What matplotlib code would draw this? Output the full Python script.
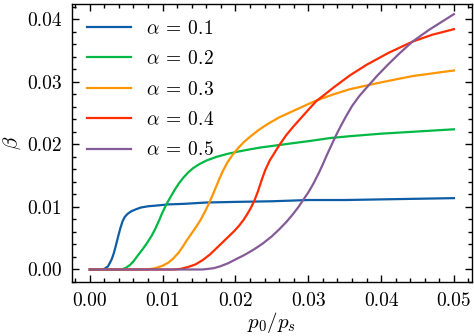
import matplotlib
matplotlib.use("Agg")
import matplotlib.pyplot as plt
from matplotlib.ticker import MultipleLocator, FormatStrFormatter

plt.rcParams['font.family'] = 'serif'
plt.rcParams['font.serif'] = ['cmr10', 'DejaVu Serif']
plt.rcParams['mathtext.fontset'] = 'cm'
plt.rcParams['axes.formatter.use_mathtext'] = True

labels = [r'$\alpha\:=\:0.1$', r'$\alpha\:=\:0.2$', r'$\alpha\:=\:0.3$',
          r'$\alpha\:=\:0.4$', r'$\alpha\:=\:0.5$']
colors = ['#0C5DA5', '#00B945', '#FF9500', '#FF2C00', '#845B97']

x_a1 = [0, 0.0015, 0.002, 0.0025, 0.003, 0.0033, 0.0036, 0.0039, 0.0042, 0.0045, 0.0048,
        0.0052, 0.0057, 0.0063, 0.007, 0.008, 0.009, 0.0108, 0.0131, 0.016, 0.02, 0.025,
        0.03, 0.035, 0.04, 0.045, 0.05]
y_a1 = [0, 0, 0.0001, 0.0005, 0.0016, 0.0026, 0.0039, 0.0053, 0.0066, 0.0077, 0.0084,
        0.0089, 0.0093, 0.0096, 0.0099, 0.0101, 0.0102, 0.0104, 0.0105, 0.0107, 0.0108, 0.0109,
        0.0111, 0.0111, 0.0112, 0.0113, 0.0114]

x_a2 = [0, 0.0044, 0.005, 0.0055, 0.006, 0.0067, 0.0073, 0.0079, 0.0085, 0.009, 0.0095,
        0.0099, 0.0103, 0.0107, 0.0112, 0.0117, 0.0122, 0.0128, 0.0135, 0.0142, 0.015, 0.016,
        0.0174, 0.019, 0.0202, 0.022, 0.0235, 0.0261, 0.028, 0.03, 0.033, 0.0357, 0.04,
        0.0443, 0.05]
y_a2 = [0, 0, 0.0003, 0.0007, 0.0013, 0.0024, 0.0033, 0.0043, 0.0054, 0.0065, 0.0078,
        0.0089, 0.0099, 0.0108, 0.0118, 0.0128, 0.0137, 0.0146, 0.0155, 0.0162, 0.0168, 0.0174,
        0.0180, 0.0185, 0.0188, 0.0192, 0.0195, 0.0199, 0.0202, 0.0205, 0.0210, 0.0213, 0.0217,
        0.0220, 0.0224]

x_a3 = [0, 0.0078, 0.009, 0.01, 0.0108, 0.0115, 0.0122, 0.0128, 0.0134, 0.014, 0.0146,
        0.0152, 0.0158, 0.0163, 0.0168, 0.0173, 0.0178, 0.0183, 0.0189, 0.0196, 0.0203,
        0.0211, 0.022, 0.0232, 0.0245, 0.026, 0.0275, 0.029, 0.0311, 0.0335, 0.0357, 0.038,
        0.04, 0.0443, 0.05]
y_a3 = [0, 0, 0.0002, 0.0006, 0.0011, 0.0018, 0.0027, 0.0037, 0.0048, 0.0058, 0.0068,
        0.0079, 0.0092, 0.0104, 0.0117, 0.0131, 0.0145, 0.0158, 0.0171, 0.0183, 0.0193,
        0.0203, 0.0212, 0.0223, 0.0233, 0.0243, 0.0251, 0.0259, 0.0270, 0.0280, 0.0288, 0.0294,
        0.0299, 0.0309, 0.0318]

x_a4 = [0, 0.0115, 0.0125, 0.0135, 0.0145, 0.0155, 0.0165, 0.0174, 0.0182, 0.019, 0.0198,
        0.0205, 0.0211, 0.0216, 0.0221, 0.0226, 0.0231, 0.0236, 0.0241, 0.0247, 0.0254,
        0.0261, 0.027, 0.028, 0.029, 0.03, 0.0311, 0.0322, 0.0335, 0.0357, 0.038, 0.041,
        0.0443, 0.047, 0.05]
y_a4 = [0, 0, 0.0001, 0.0004, 0.0008, 0.0015, 0.0024, 0.0034, 0.0043, 0.0052, 0.0061,
        0.0070, 0.0079, 0.0088, 0.0098, 0.0110, 0.0125, 0.0143, 0.0159, 0.0174, 0.0187,
        0.0200, 0.0215, 0.0229, 0.0242, 0.0255, 0.0269, 0.0279, 0.0291, 0.0310, 0.0327, 0.0346,
        0.0364, 0.0375, 0.0384]

x_a5 = [0, 0.0155, 0.017, 0.0179, 0.019, 0.02, 0.0212, 0.0224, 0.0237, 0.025, 0.026,
        0.027, 0.0278, 0.0286, 0.0293, 0.03, 0.0307, 0.0314, 0.032, 0.0326, 0.0332, 0.0338,
        0.0345, 0.0352, 0.036, 0.037, 0.0382, 0.0395, 0.041, 0.0425, 0.0443, 0.0466, 0.05]
y_a5 = [0, 0, 0.0002, 0.0005, 0.0010, 0.0016, 0.0023, 0.0031, 0.0041, 0.0053, 0.0064,
        0.0076, 0.0087, 0.0099, 0.0111, 0.0123, 0.0137, 0.0153, 0.0168, 0.0184, 0.0199, 0.0214,
        0.0230, 0.0245, 0.0261, 0.0277, 0.0293, 0.0310, 0.0328, 0.0345, 0.0364, 0.0383, 0.0408]

series = [(x_a1, y_a1), (x_a2, y_a2), (x_a3, y_a3), (x_a4, y_a4), (x_a5, y_a5)]

fig = plt.figure(figsize=(4.74, 3.36), dpi=100)
ax = fig.add_axes([0.151, 0.1607, 0.845, 0.827])

for (xs, ys), lab, c in zip(series, labels, colors):
    ax.plot(xs, ys, color=c, lw=1.6, label=lab, solid_joinstyle='round')

ax.set_ylim(-0.002, 0.0424)
ax.xaxis.set_major_locator(MultipleLocator(0.01))
ax.xaxis.set_minor_locator(MultipleLocator(0.002))
ax.yaxis.set_major_locator(MultipleLocator(0.01))
ax.yaxis.set_minor_locator(MultipleLocator(0.002))
ax.xaxis.set_major_formatter(FormatStrFormatter('%.2f'))
ax.yaxis.set_major_formatter(FormatStrFormatter('%.2f'))

ax.tick_params(which='both', direction='in', top=True, right=True, labelsize=14,
               width=1.0, pad=7)
ax.tick_params(which='major', length=5)
ax.tick_params(which='minor', length=3)
for s in ax.spines.values():
    s.set_linewidth(1.0)

ax.set_xlabel(r'$p_0/p_s$', fontsize=15, labelpad=0)
ax.set_ylabel(r'$\beta$', fontsize=15, labelpad=3)

ax.legend(loc='upper left', frameon=False, fontsize=14, handlelength=2.27,
          borderaxespad=0.55, borderpad=0.25, labelspacing=0.64, handletextpad=0.77)

fig.savefig('out.png', dpi=100)
